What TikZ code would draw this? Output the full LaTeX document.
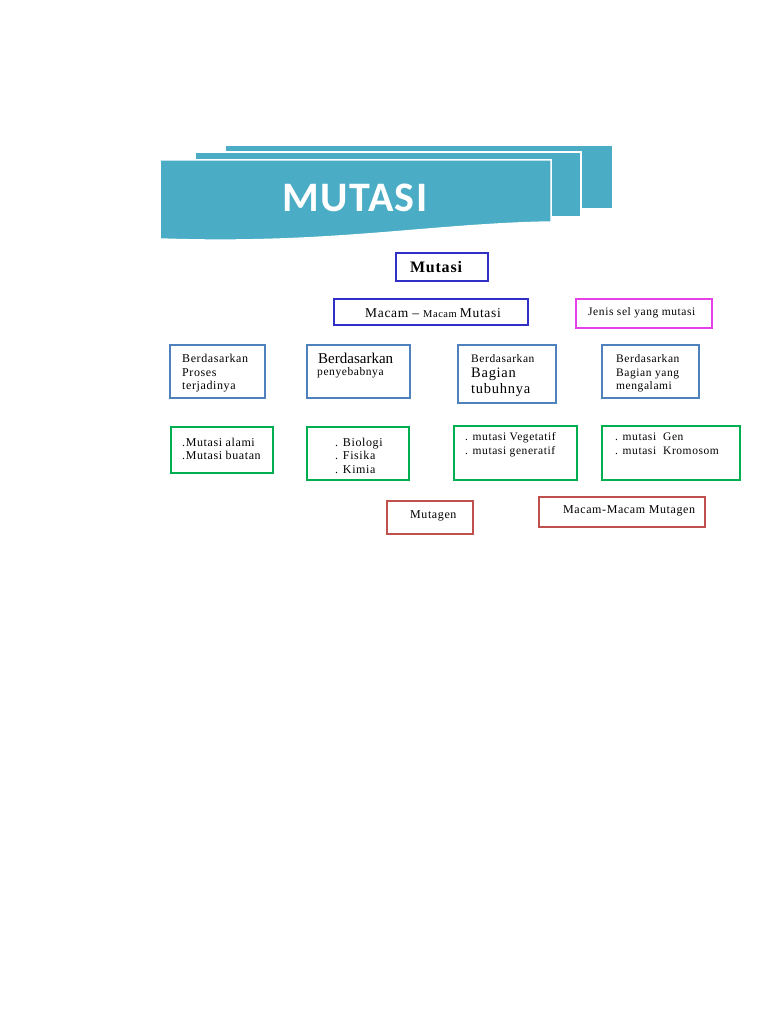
\documentclass[tikz,border=0pt]{standalone}
\usepackage{fontspec}
\setmainfont{Liberation Serif}
\newfontfamily\bannerfont[LetterSpace=3]{Carlito}
\newfontfamily\ls[LetterSpace=5]{Liberation Serif}
\newfontfamily\lsb[LetterSpace=5]{Liberation Serif Bold}
\definecolor{teal}{HTML}{4BACC6}
\definecolor{stblue}{HTML}{4F81BD}
\definecolor{grn}{HTML}{00B050}
\definecolor{rd}{HTML}{C0504D}
\definecolor{nblue}{HTML}{3030C8}
\definecolor{mag}{HTML}{E840E8}
\tikzset{
  t/.style={anchor=base west, inner sep=0pt, font=\ls\fontsize{12}{12}\selectfont},
  ts/.style={anchor=base west, inner sep=0pt, font=\ls\fontsize{11.5}{12}\selectfont},
  tb/.style={anchor=base west, inner sep=0pt, font=\ls\fontsize{14.5}{15}\selectfont},
  thick box/.style={line width=2.6},
  thin box/.style={line width=1.2},
}
\begin{document}
\begin{tikzpicture}[x=1pt,y=-1pt]
\useasboundingbox (0,0) rectangle (768,1024);
% banner
\path[fill=teal, draw=white, line width=2] (225,145) rectangle (613,209);
\path[fill=teal, draw=white, line width=2] (195,152) rectangle (581,217);
\path[fill=teal, draw=white, line width=1.5] (160,160) -- (551,160) -- (551,222) .. controls (430,224) and (330,245) .. (160,239) -- cycle;
\node[anchor=base, inner sep=0pt, text=white, font=\bannerfont\bfseries\fontsize{42}{42}\selectfont] (title) at (355,212) {MUTASI};
% top boxes
\draw[nblue, thin box] (396,253) rectangle (488,281);
\node[anchor=base, inner sep=0pt, font=\lsb\fontsize{16}{16}\selectfont] (mutasi) at (436,272) {Mutasi};
\draw[nblue, thin box] (334,299) rectangle (528,325);
\node[anchor=base west, inner sep=0pt] (macam) at (365,317) {\ls\fontsize{13.5}{13.5}\selectfont Macam \textendash{} \fontsize{10.5}{10.5}\selectfont Macam \fontsize{13.5}{13.5}\selectfont Mutasi};
\draw[mag, thin box] (576,299) rectangle (712,328);
\node[ts] (jenis) at (588,315) {Jenis sel yang mutasi};
% blue boxes
\draw[stblue, thick box] (170,345) rectangle (265,398);
\node[t] (b1a) at (182,362) {Berdasarkan};
\node[t] (b1b) at (182,376) {Proses};
\node[t] (b1c) at (182,389) {terjadinya};
\draw[stblue, thick box] (307,345) rectangle (410,398);
\node[anchor=base west, inner sep=0pt, font=\fontsize{15}{15}\selectfont] (b2a) at (318,363) {Berdasarkan};
\node[ts] (b2b) at (317,375) {penyebabnya};
\draw[stblue, thick box] (458,345) rectangle (556,403);
\node[ts] (b3a) at (471,362) {Berdasarkan};
\node[tb] (b3b) at (471,377) {Bagian};
\node[tb] (b3c) at (471,393) {tubuhnya};
\draw[stblue, thick box] (602,345) rectangle (699,398);
\node[ts] (b4a) at (616,362) {Berdasarkan};
\node[ts] (b4b) at (616,376) {Bagian yang};
\node[ts] (b4c) at (616,389) {mengalami};
% green boxes
\draw[grn, thick box] (171,427) rectangle (273,473);
\node[t] (g1a) at (182,446) {.Mutasi alami};
\node[t] (g1b) at (182,459) {.Mutasi buatan};
\draw[grn, thick box] (307,427) rectangle (409,480);
\node[t] (g2a) at (335,446) {. Biologi};
\node[t] (g2b) at (335,459) {. Fisika};
\node[t] (g2c) at (335,473) {. Kimia};
\draw[grn, thick box] (454,426) rectangle (577,480);
\node[ts] (g3a) at (465,440) {. mutasi Vegetatif};
\node[ts] (g3b) at (465,454) {. mutasi generatif};
\draw[grn, thick box] (602,426) rectangle (740,480);
\node[ts] (g4a) at (615,440) {. mutasi\ \ Gen};
\node[ts] (g4b) at (615,454) {. mutasi\ \ Kromosom};
% red boxes
\draw[rd, thick box] (387,501) rectangle (473,534);
\node[t] (r1) at (410,518) {Mutagen};
\draw[rd, thick box] (539,497) rectangle (705,527);
\node[t] (r2) at (563,513) {Macam-Macam Mutagen};
\end{tikzpicture}
\end{document}
